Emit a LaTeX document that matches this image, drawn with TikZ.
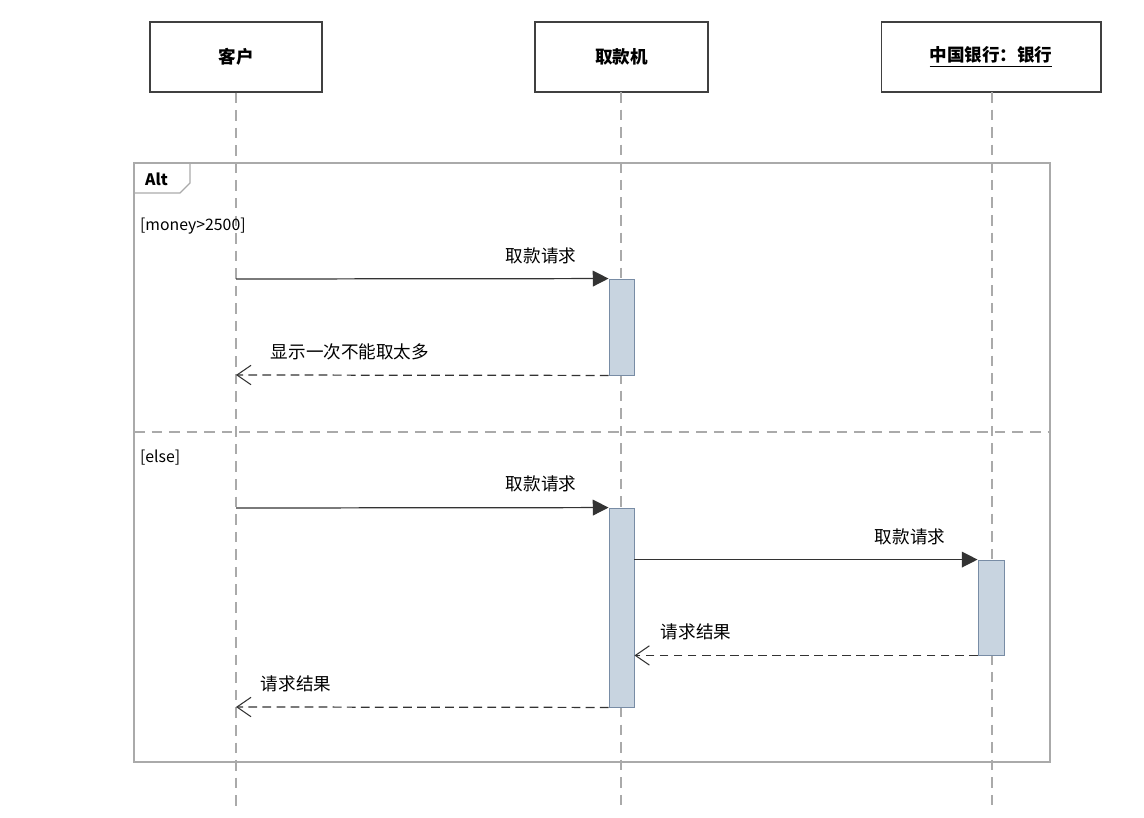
\documentclass[tikz,border=0pt]{standalone}
\usepackage{fontspec}
\setmainfont{Noto Sans CJK SC}
\usetikzlibrary{arrows.meta}
\definecolor{actfill}{RGB}{200,212,224}
\definecolor{actdraw}{RGB}{120,140,165}
\definecolor{lline}{RGB}{170,170,170}
\tikzset{
  head/.style={draw=black!75,line width=0.6pt,minimum width=#1,minimum height=1.4cm,font=\fontsize{10}{12}\selectfont\bfseries,inner sep=0pt},
  life/.style={draw=lline,dashed,dash pattern=on 6pt off 4pt,line width=0.6pt},
  act/.style={draw=actdraw,fill=actfill,line width=0.5pt},
  msg/.style={draw=black!80,line width=0.7pt,-{Triangle[length=9pt,width=9pt]}},
  ret/.style={draw=black!80,line width=0.7pt,dashed,dash pattern=on 5pt off 3pt,-{Straight Barb[length=8pt,width=11pt,line width=0.6pt]}},
  lbl/.style={font=\fontsize{10}{12}\selectfont,inner sep=1pt},
  guard/.style={font=\fontsize{9}{11}\selectfont,inner sep=1pt,anchor=west}
}
\begin{document}
\begin{tikzpicture}[x=0.02cm,y=-0.02cm]
\useasboundingbox (0,0) rectangle (1144,818);
% heads
\node[head=3.44cm] (c) at (236,57) {客户};
\node[head=3.46cm] (m) at (621.5,57) {取款机};
\node[head=4.4cm] (b) at (991,57) {\underline{中国银行：银行}};
\coordinate (ce) at (236,810);
\coordinate (me) at (621,810);
\coordinate (be) at (992,810);
\draw[life] (c.south) -- (ce);
\draw[life] (621,92) -- (me);
\draw[life] (992,92) -- (be);
% frame
\draw[lline,line width=0.7pt] (134,163) rectangle (1050,762);
\draw[lline,line width=0.7pt] (134,193) -- (180,193) -- (190,183) -- (190,163);
\node[font=\fontsize{9}{11}\selectfont\bfseries,anchor=west,inner sep=1pt] (alt) at (143,179) {Alt};
\draw[lline,dashed,dash pattern=on 6pt off 4pt,line width=0.7pt] (134,432) -- (1050,432);
\node[guard] (g1) at (138,226) {[money>2500]};
\node[guard] (g2) at (138,458) {[else]};
% activations
\node[act,minimum width=0.5cm,minimum height=1.92cm,inner sep=0pt] (a1) at (621.5,327) {};
\node[act,minimum width=0.5cm,minimum height=3.98cm,inner sep=0pt] (a2) at (621.5,607.5) {};
\node[act,minimum width=0.52cm,minimum height=1.9cm,inner sep=0pt] (a3) at (991,607.5) {};
% messages
\coordinate (s1) at (236,279);
\draw[msg] (s1) -- (a1.north west);
\node[lbl] (l1) at (541,256) {取款请求};
\coordinate (r1) at (236,375);
\draw[ret] (a1.south west) -- (r1);
\node[lbl] (l2) at (350,352) {显示一次不能取太多};
\coordinate (s2) at (236,508);
\draw[msg] (s2) -- (a2.north west);
\node[lbl] (l3) at (541,484) {取款请求};
\draw[msg] (a2.east |- a3.north) -- (a3.north west);
\node[lbl] (l4) at (910,537) {取款请求};
\draw[ret] (a3.south west) -- (a2.east |- a3.south);
\node[lbl] (l5) at (696,632) {请求结果};
\coordinate (r2) at (236,707);
\draw[ret] (a2.south west) -- (r2);
\node[lbl] (l6) at (296,684) {请求结果};
\end{tikzpicture}
\end{document}
